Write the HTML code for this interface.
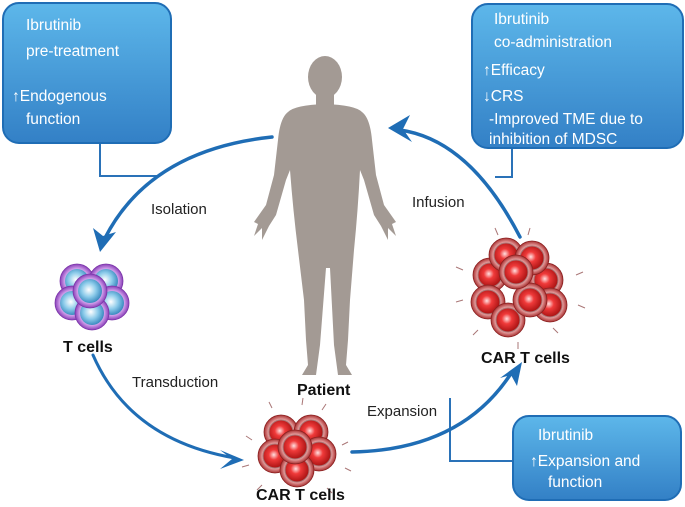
<!DOCTYPE html>
<html><head><style>
body{margin:0;background:#fff;}
svg{display:block;font-family:"Liberation Sans","DejaVu Sans",sans-serif;}
</style></head><body>
<svg width="685" height="507" viewBox="0 0 685 507" xmlns="http://www.w3.org/2000/svg">
<defs>
<linearGradient id="bx" x1="0" y1="0" x2="0" y2="1"><stop offset="0" stop-color="#5db7ea"/><stop offset="1" stop-color="#3380c6"/></linearGradient>
<radialGradient id="bc" cx="0.45" cy="0.45" r="0.6"><stop offset="0" stop-color="#ffffff"/><stop offset="0.5" stop-color="#8ccbea"/><stop offset="1" stop-color="#2d7fb8"/></radialGradient>
<radialGradient id="pc" cx="0.5" cy="0.5" r="0.5"><stop offset="0.7" stop-color="#d7a8f0"/><stop offset="1" stop-color="#8a3fb8"/></radialGradient>
<radialGradient id="rc" cx="0.45" cy="0.45" r="0.6"><stop offset="0" stop-color="#ffe0e0"/><stop offset="0.35" stop-color="#f03a3a"/><stop offset="1" stop-color="#a00d0d"/></radialGradient>
<radialGradient id="ro" cx="0.5" cy="0.5" r="0.5"><stop offset="0.7" stop-color="#f0b0b0"/><stop offset="1" stop-color="#a83030"/></radialGradient>
<g id="rcell"><circle r="17" fill="url(#ro)" stroke="#8a2020" stroke-width="0.8"/><circle r="12" fill="url(#rc)"/></g>
<g id="bcell"><circle r="17" fill="url(#pc)" stroke="#7a35a8" stroke-width="0.8"/><circle r="12" fill="url(#bc)"/></g>
</defs>

<g fill="none" stroke="#2a72b8" stroke-width="2">
<polyline points="100,143 100,176 160,176"/>
<polyline points="512,148 512,177 495,177"/>
<polyline points="450,398 450,461 513,461"/>
</g>

<rect x="3" y="3" width="168" height="140" rx="16" fill="url(#bx)" stroke="#1f6db5" stroke-width="2"/>
<rect x="472" y="4" width="211" height="144" rx="16" fill="url(#bx)" stroke="#1f6db5" stroke-width="2"/>
<rect x="513" y="416" width="168" height="84" rx="16" fill="url(#bx)" stroke="#1f6db5" stroke-width="2"/>
<g fill="#fff" font-size="15.5">
<text x="26" y="30">Ibrutinib</text>
<text x="26" y="56">pre-treatment</text>
<text x="12" y="101">↑Endogenous</text>
<text x="26" y="124">function</text>
<text x="494" y="24">Ibrutinib</text>
<text x="494" y="47">co-administration</text>
<text x="483" y="75">↑Efficacy</text>
<text x="483" y="101">↓CRS</text>
<text x="489" y="124">-Improved TME due to</text>
<text x="489" y="144">inhibition of MDSC</text>
<text x="538" y="440">Ibrutinib</text>
<text x="530" y="466">↑Expansion and</text>
<text x="548" y="487">function</text>
</g>

<g fill="none" stroke="#1f6db5" stroke-linecap="round">
<path d="M272,137 Q150,150 105,238" stroke-width="3.5"/>
<path d="M520,237 Q470,140 400,130" stroke-width="3.5"/>
<path d="M93,355 Q130,440 235,458" stroke-width="3"/>
<path d="M352,452 Q460,450 510,375" stroke-width="3.5"/>
</g>
<g fill="#1f6db5">
<polygon points="100,252 93,228 103,236 116,232"/>
<polygon points="388,128 410,115 403,129 412,142"/>
<polygon points="244,460 220,450 232,459 220,469"/>
<polygon points="522,362 517,386 511,375 500,378"/>
</g>

<g fill="#a39a94">
<ellipse cx="325" cy="77" rx="17" ry="21"/>
<rect x="316" y="93" width="18" height="14"/>
<path d="M288,112 Q295,105 325,104 Q355,105 362,112 Q370,118 372,140 L376,175 L384,205 L396,222 L392,224 L396,236 L388,228 L388,240 L381,226 L374,215 L364,180 L360,170 Q358,210 354,250 L350,300 L348,340 L346,365 L352,375 L338,375 L334,345 L330,268 L326,268 L320,345 L316,375 L302,375 L308,365 L306,340 L304,300 L298,250 Q293,210 290,170 L286,180 L276,215 L269,226 L262,240 L262,228 L254,236 L258,224 L254,222 L266,205 L274,175 L278,140 Q280,118 288,112Z"/>
</g>

<g transform="translate(92,295)">
<use href="#bcell" x="-15" y="-14"/><use href="#bcell" x="14" y="-14"/>
<use href="#bcell" x="-20" y="8"/><use href="#bcell" x="20" y="8"/>
<use href="#bcell" x="0" y="18"/><use href="#bcell" x="-2" y="-4"/>
</g>

<g transform="translate(297,450)" stroke="#a77" stroke-width="1" fill="#f5d0d0">
<use href="#rcell" x="-16" y="-18"/><use href="#rcell" x="14" y="-18"/>
<use href="#rcell" x="-22" y="6"/><use href="#rcell" x="22" y="4"/>
<use href="#rcell" x="0" y="20"/><use href="#rcell" x="-2" y="-3"/>
<path d="M-45,-10 l-6,-4 M-48,15 l-7,2 M45,-5 l6,-3 M48,18 l6,3 M-25,-42 l-3,-6 M5,-45 l1,-7 M25,-40 l4,-6 M-35,35 l-5,5 M30,38 l5,5"/>
</g>

<g transform="translate(518,290)" stroke="#a77" stroke-width="1">
<use href="#rcell" x="-28" y="-15"/><use href="#rcell" x="28" y="-10"/>
<use href="#rcell" x="-30" y="12"/><use href="#rcell" x="32" y="15"/>
<use href="#rcell" x="-12" y="-35"/><use href="#rcell" x="14" y="-32"/>
<use href="#rcell" x="-10" y="30"/><use href="#rcell" x="12" y="10"/>
<use href="#rcell" x="-2" y="-18"/>
<path d="M-55,-20 l-7,-3 M-55,10 l-7,2 M58,-15 l7,-3 M60,15 l7,3 M-20,-55 l-3,-7 M10,-55 l2,-7 M-40,40 l-5,5 M35,38 l5,5 M0,52 l0,7"/>
</g>

<g fill="#222" font-size="15">
<text x="151" y="214">Isolation</text>
<text x="412" y="207">Infusion</text>
<text x="132" y="387">Transduction</text>
<text x="367" y="416">Expansion</text>
</g>
<g fill="#111" font-size="16" font-weight="bold">
<text x="63" y="352">T cells</text>
<text x="297" y="395">Patient</text>
<text x="481" y="363">CAR T cells</text>
<text x="256" y="500">CAR T cells</text>
</g>
</svg>
</body></html>
